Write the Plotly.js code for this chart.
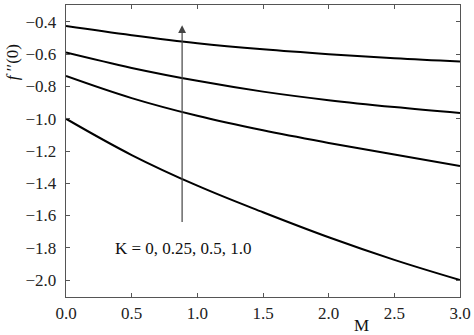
<!DOCTYPE html>
<html>
<head>
<meta charset="utf-8">
<script src="https://cdn.plot.ly/plotly-3.0.1.min.js"></script>
<style>html,body{margin:0;padding:0;background:#fff;}</style>
</head>
<body>
<div id="chart" style="width:474px;height:335px;"></div>
<script>
const M = [0, 0.5, 1.0, 1.5, 2.0, 2.5, 3.0];
const K0 = [-1.0, -1.225, -1.415, -1.58, -1.735, -1.875, -2.0];
const K025 = [-0.735, -0.872, -0.982, -1.072, -1.15, -1.222, -1.293];
const K05 = [-0.59, -0.685, -0.765, -0.832, -0.885, -0.928, -0.965];
const K10 = [-0.425, -0.482, -0.532, -0.570, -0.600, -0.625, -0.645];
const seriesNames = ['K = 0', 'K = 0.25', 'K = 0.5', 'K = 1.0'];
const xTicks = [0, 0.5, 1.0, 1.5, 2.0, 2.5, 3.0];
const yTicks = [-2.0, -1.8, -1.6, -1.4, -1.2, -1.0, -0.8, -0.6, -0.4];

const font = 'Liberation Serif';
const traces = [K0, K025, K05, K10].map((y, i) => ({
  x: M, y: y, type: 'scatter', mode: 'lines', name: seriesNames[i],
  line: {color: '#000', width: 2, shape: 'spline', smoothing: 1.1},
  hoverinfo: 'skip'
}));

function axis(extra) {
  return Object.assign({
    showgrid: false, zeroline: false, showline: true, mirror: 'ticks',
    linecolor: '#555', linewidth: 1.3, ticks: 'inside', ticklen: 4,
    tickcolor: '#555', tickwidth: 1,
    tickfont: {family: font, size: 17, color: '#222'}
  }, extra);
}

const layout = {
  width: 474, height: 335,
  margin: {l: 66, r: 14, t: 5, b: 38},
  font: {family: font, size: 17, color: '#222'},
  paper_bgcolor: '#fff', plot_bgcolor: '#fff',
  showlegend: false,
  xaxis: axis({range: [0, 3.0], tickvals: xTicks, tickformat: '.1f'}),
  yaxis: axis({range: [-2.105, -0.295], tickvals: yTicks, tickformat: '.1f', ticklabelstandoff: 5}),
  annotations: [
    {x: 0.884, y: -0.42, ax: 0.884, ay: -1.65, xref: 'x', yref: 'y', axref: 'x', ayref: 'y',
     showarrow: true, arrowhead: 2, arrowsize: 1.3, arrowwidth: 1.2, arrowcolor: '#444', text: ''},
    {x: 0.36, y: -1.805, xref: 'x', yref: 'y', xanchor: 'left', yanchor: 'middle', showarrow: false,
     text: 'K = 0, 0.25, 0.5, 1.0', font: {family: font, size: 17, color: '#111'}},
    {x: 2.25, y: 0, xref: 'x', yref: 'paper', yshift: -28, xanchor: 'center', yanchor: 'middle', showarrow: false,
     text: 'M', font: {family: font, size: 17, color: '#111'}},
    {x: 0, y: -0.65, xref: 'paper', yref: 'y', xshift: -54, xanchor: 'center', yanchor: 'middle', showarrow: false,
     textangle: -90, text: '<i>f</i> ′′(0)', font: {family: font, size: 17, color: '#111'}}
  ]
};

Plotly.newPlot('chart', traces, layout, {staticPlot: true, displayModeBar: false});
</script>
</body>
</html>
